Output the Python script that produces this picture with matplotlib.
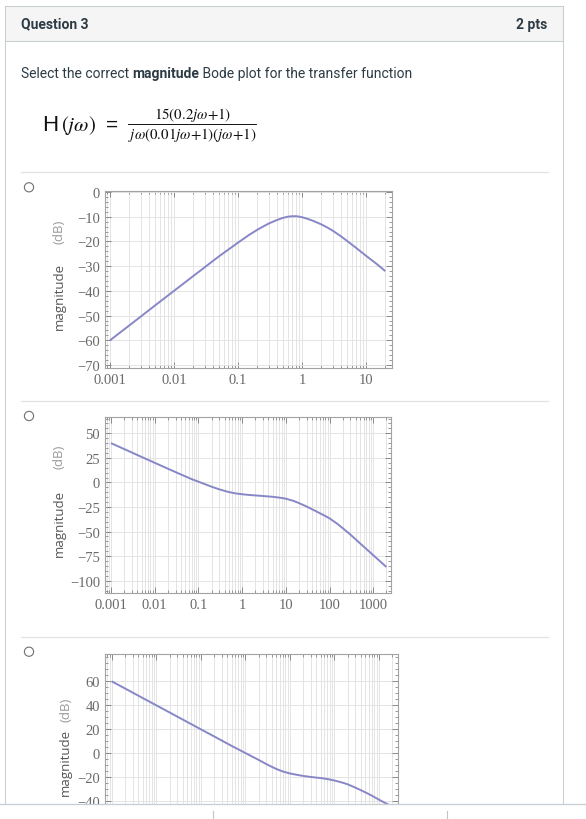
import matplotlib
matplotlib.use('Agg')
import matplotlib.pyplot as plt
import matplotlib.ticker as mticker
from matplotlib.patches import Rectangle, Circle
from matplotlib.lines import Line2D
from matplotlib.transforms import IdentityTransform
import numpy as np

W, H = 586, 820

# option 1
freq_1 = [0.001, 0.002, 0.005, 0.01, 0.02, 0.05, 0.1, 0.15, 0.2, 0.25, 0.3, 0.4,
          0.5, 0.6, 0.7, 0.8, 0.9, 1, 1.2, 1.5, 2, 2.5, 3, 4, 5, 7, 10, 15, 20]
mag_1 = [-60, -54, -46, -40, -34, -26.1, -20.5, -17.3, -15.3, -13.9, -12.8, -11.4,
         -10.5, -10.0, -9.8, -9.8, -9.95, -10.2, -10.8, -11.7, -13.1, -14.4, -15.6,
         -17.8, -19.7, -22.6, -25.8, -29.3, -32.0]
xticks_1 = [0.001, 0.01, 0.1, 1, 10]
xlabels_1 = ['0.001', '0.01', '0.1', '1', '10']
yticks_1 = [0, -10, -20, -30, -40, -50, -60, -70]

# option 2
freq_2 = [0.001, 0.002, 0.005, 0.01, 0.02, 0.05, 0.07, 0.1, 0.15, 0.2, 0.3, 0.4,
          0.5, 0.7, 1, 1.5, 2, 3, 5, 7, 10, 15, 20, 30, 50, 70, 100, 150, 200, 300,
          500, 1000, 2000]
mag_2 = [40, 34, 26, 20, 14, 6.2, 3.4, 0.8, -2.2, -4.3, -7.0, -8.6, -9.8, -11.1,
         -12.0, -12.8, -13.2, -13.8, -14.6, -15.4, -16.5, -18.8, -21.0, -24.5,
         -29.5, -32.8, -36.5, -42.0, -46.5, -53.0, -62.0, -74.0, -86.0]
xticks_2 = [0.001, 0.01, 0.1, 1, 10, 100, 1000]
xlabels_2 = ['0.001', '0.01', '0.1', '1', '10', '100', '1000']
yticks_2 = [50, 25, 0, -25, -50, -75, -100]

# option 3 (bottom of the plot is cut off by the page)
freq_3 = [0.001, 0.002, 0.005, 0.01, 0.02, 0.05, 0.1, 0.2, 0.5, 1, 1.5, 2, 3, 4,
          5, 7, 10, 15, 20, 30, 50, 70, 100, 150, 200, 300, 500, 700, 1000, 1300,
          2000, 2700]
mag_3 = [60, 54, 46, 40, 34, 26, 20, 14, 6, 0.2, -3.2, -5.6, -9.2, -11.5, -13.2,
         -15.3, -16.9, -18.2, -19.0, -19.9, -20.8, -21.6, -22.8, -24.5, -26.0,
         -28.8, -32.7, -35.5, -38.7, -41.0, -44.5, -47.0]
xticks_3 = [0.001, 0.01, 0.1, 1, 10, 100, 1000]
yticks_3 = [60, 40, 20, 0, -20, -40]

TXT = '#2d3b45'
BORDER = '#c7cdd1'
SEP = '#e2e2e2'
LINE = '#8787c8'

fig = plt.figure(figsize=(W / 100, H / 100), dpi=100)
fig.patch.set_facecolor('white')


def fx(px):
    return px / W


def fy(py):
    return 1 - py / H


def hline(y, x0, x1, color, lw=0.75, z=5):
    fig.add_artist(Line2D([fx(x0), fx(x1)], [fy(y), fy(y)], transform=fig.transFigure,
                          color=color, lw=lw, zorder=z))


def vline(x, y0, y1, color, lw=0.75, z=5):
    fig.add_artist(Line2D([fx(x), fx(x)], [fy(y0), fy(y1)], transform=fig.transFigure,
                          color=color, lw=lw, zorder=z))


# card
fig.add_artist(Rectangle((fx(5.3), fy(42.3)), fx(563.3) - fx(5.3), fy(7.3) - fy(42.3),
                         transform=fig.transFigure, facecolor='#f5f5f5', edgecolor='none', zorder=1))
hline(7.3, 5.3, 563.3, BORDER)
hline(42.3, 5.3, 563.3, BORDER)
vline(5.3, 7.3, 805, BORDER)
vline(563.3, 7.3, 805, BORDER)

fig.text(fx(20.7), fy(24.5), 'Question 3', fontfamily='Roboto', fontweight='bold',
         fontsize=10, color=TXT, va='center', ha='left')
fig.text(fx(547.3), fy(24.5), '2 pts', fontfamily='Roboto', fontweight='bold',
         fontsize=10, color=TXT, va='center', ha='right')

renderer = fig.canvas.get_renderer()
x = fx(20.7)
for part, weight in [('Select the correct ', 'normal'), ('magnitude', 'bold'),
                     (' Bode plot for the transfer function', 'normal')]:
    t = fig.text(x, fy(74), part, fontfamily='Roboto', fontweight=weight,
                 fontsize=10, color=TXT, va='center', ha='left')
    bb = t.get_window_extent(renderer=renderer)
    x = bb.x1 / W

# formula
fig.text(fx(41.7), fy(130.7), 'H', fontfamily='Liberation Sans', fontsize=16,
         color='#111111', va='baseline', ha='left')
fig.text(fx(61.5), fy(130.7), r'$(j\omega)$', math_fontfamily='stix', fontsize=15,
         color='#111111', va='baseline', ha='left')
fig.text(fx(105.5), fy(130.7), '=', fontfamily='Liberation Sans', fontsize=15,
         color='#111111', va='baseline', ha='left')
fig.text(fx(192.3), fy(119.5), r'$15(0.2j\omega{+}1)$', math_fontfamily='stix',
         fontsize=10.8, color='#111111', va='baseline', ha='center')
fig.text(fx(192.3), fy(139), r'$j\omega(0.01j\omega{+}1)(j\omega{+}1)$', math_fontfamily='stix',
         fontsize=10.8, color='#111111', va='baseline', ha='center')
hline(124.7, 127.7, 255.5, '#111111', lw=0.7)

# separators and radio buttons
for y in [173.3, 401.7, 638.3]:
    hline(y, 20.7, 548.3, SEP, lw=0.9)
for y in [188.3, 417.0, 652.7]:
    fig.add_artist(Circle((29, H - y), 4.6, transform=IdentityTransform(),
                          facecolor='white', edgecolor='#6f6f6f', lw=0.8, zorder=6))

TICKFONT = ['Liberation Serif', 'DejaVu Serif']


def fmt_num(v):
    if v < 0:
        return '\u2212' + str(abs(v))
    return str(v)


def bode(box, xlim, ylim, yticks, ystep, xticks, xlabels, freq, mag, label_pos):
    l, t, r, b = box
    ax = fig.add_axes([fx(l), fy(b), (r - l) / W, (b - t) / H])
    ax.set_xscale('log')
    ax.set_xlim(xlim)
    ax.set_ylim(ylim)
    if xlabels is None:
        ax.set_xticks(xticks)
        ax.tick_params(axis='x', labelbottom=False)
    else:
        ax.set_xticks(xticks, labels=xlabels)
    ax.xaxis.set_minor_locator(mticker.LogLocator(base=10, subs=np.arange(2, 10), numticks=20))
    ax.xaxis.set_minor_formatter(mticker.NullFormatter())
    ax.set_yticks(yticks, labels=[fmt_num(v) for v in yticks])
    ax.yaxis.set_minor_locator(mticker.MultipleLocator(ystep))
    ax.tick_params(which='both', direction='in', top=True, right=True, color='#8a8a8a')
    ax.tick_params(which='major', length=4, width=0.7, pad=3.5, labelsize=10.5,
                   labelcolor='#6a6a6a')
    ax.tick_params(which='minor', length=2, width=0.6)
    for lbl in ax.get_xticklabels() + ax.get_yticklabels():
        lbl.set_fontfamily(TICKFONT)
    ax.grid(True, which='both', axis='x', color='#e4e4e4', lw=0.7)
    ax.grid(True, which='major', axis='y', color='#e4e4e4', lw=0.7)
    ax.set_axisbelow(True)
    for s in ax.spines.values():
        s.set_color('#a3a3a3')
        s.set_linewidth(0.8)
    ax.plot(freq, mag, color=LINE, lw=1.4, solid_capstyle='butt', solid_joinstyle='round')

    lx, my, dy = label_pos
    fig.text(fx(lx), fy(my), 'magnitude', rotation=90, fontfamily='Open Sans',
             fontsize=9.5, color='#555555', ha='center', va='center')
    fig.text(fx(lx), fy(dy), '(dB)', rotation=90, fontfamily='Open Sans',
             fontsize=9.5, color='#9a9a9a', ha='center', va='center')
    return ax


bode((105, 192, 392, 369), (10 ** -3.078, 10 ** 1.406), (-71.2, 0.4), yticks_1, 2,
     xticks_1, xlabels_1, freq_1, mag_1, (59.3, 296, 231.7))
bode((105, 418.3, 390.7, 594), (10 ** -3.137, 10 ** 3.40), (-112.5, 66.3), yticks_2, 5,
     xticks_2, xlabels_2, freq_2, mag_2, (59.3, 523.3, 456.5))
bode((105, 655, 398.3, 832), (10 ** -3.15, 10 ** 3.44), (-65, 82.8), yticks_3, 5,
     xticks_3, None, freq_3, mag_3, (65.7, 762.5, 710))

# page bottom strip that cuts the last option
fig.add_artist(Rectangle((0, 0), 1, fy(805.5), transform=fig.transFigure,
                         facecolor='white', edgecolor='none', zorder=20))
hline(805, 0, 586, BORDER, lw=0.9, z=21)
vline(213.3, 812, 820, '#c4c4c4', lw=0.8, z=21)
vline(446.7, 812, 820, '#c4c4c4', lw=0.8, z=21)

fig.savefig('out.png', dpi=100, facecolor='white')
